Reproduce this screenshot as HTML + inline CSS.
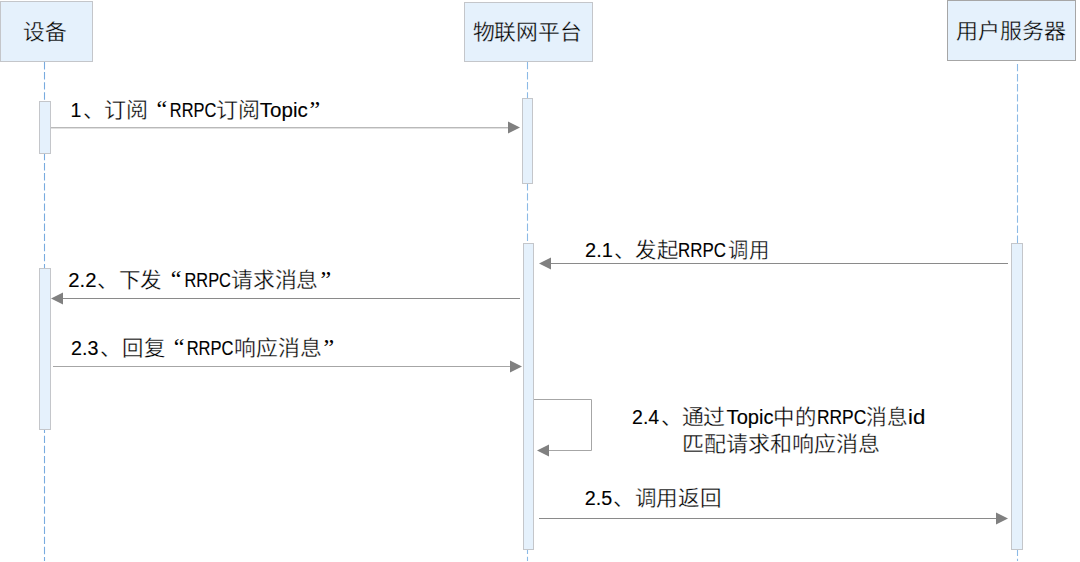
<!DOCTYPE html>
<html lang="zh-CN"><head><meta charset="utf-8"><style>
html,body{margin:0;padding:0;background:#fff;width:1080px;height:562px;overflow:hidden}
svg{display:block}
text{font-family:"Liberation Sans",sans-serif;fill:#000}
.l{font-size:19.5px;stroke:#000;stroke-width:0.12px}
.c{font-size:21px;stroke:#fff;stroke-width:0.3px}
.q{font-family:"Liberation Serif",serif;font-size:24px}
</style></head><body>
<svg width="1080" height="562" viewBox="0 0 1080 562">
<line x1="44.5" y1="62" x2="44.5" y2="561" stroke="#78abdf" stroke-width="1.1" stroke-dasharray="7.4 2.7"/>
<line x1="527.5" y1="61.9" x2="527.5" y2="561" stroke="#8cbae6" stroke-width="1.1" stroke-dasharray="7.4 2.7"/>
<line x1="1017.5" y1="63.9" x2="1017.5" y2="561" stroke="#8cbae6" stroke-width="1.1" stroke-dasharray="7.4 2.7"/>
<rect x="0.5" y="1.5" width="92" height="60" fill="#e5f1fc" stroke="#c4c6ca" stroke-width="1"/>
<rect x="464.5" y="2.5" width="128" height="59" fill="#e5f1fc" stroke="#c4c6ca" stroke-width="1"/>
<rect x="947.5" y="0.5" width="128" height="60" fill="#e5f1fc" stroke="#a6a6a6" stroke-width="1"/>
<rect x="39.5" y="101.5" width="11" height="52" fill="#e5f1fc" stroke="#c4c6ca" stroke-width="1"/>
<rect x="522.5" y="98.5" width="10" height="85" fill="#e5f1fc" stroke="#c4c6ca" stroke-width="1"/>
<rect x="39.5" y="268.5" width="11" height="161" fill="#e5f1fc" stroke="#c4c6ca" stroke-width="1"/>
<rect x="523.5" y="243.5" width="10" height="306" fill="#e5f1fc" stroke="#c4c6ca" stroke-width="1"/>
<rect x="1011.5" y="243.5" width="11" height="306" fill="#e5f1fc" stroke="#c4c6ca" stroke-width="1"/>
<line x1="51" y1="127.8" x2="510" y2="127.8" stroke="#9c9c9c" stroke-width="1"/>
<polygon points="520,127.5 508,121.5 508,133.5" fill="#808080"/>
<line x1="550" y1="263.5" x2="1008" y2="263.5" stroke="#8a8a8a" stroke-width="1"/>
<polygon points="539,263.5 551,257.5 551,269.5" fill="#808080"/>
<line x1="62" y1="298.5" x2="520" y2="298.5" stroke="#8a8a8a" stroke-width="1"/>
<polygon points="51,298.5 63,292.5 63,304.5" fill="#808080"/>
<line x1="53" y1="366.5" x2="511" y2="366.5" stroke="#a6a6a6" stroke-width="1"/>
<polygon points="522,366.5 510,360.5 510,372.5" fill="#808080"/>
<polyline points="534,399.5 591.5,399.5 591.5,450.5 549,450.5" fill="none" stroke="#a6a6a6" stroke-width="1"/>
<polygon points="537,450.5 549,444.5 549,456.5" fill="#808080"/>
<line x1="539" y1="518.5" x2="997" y2="518.5" stroke="#8a8a8a" stroke-width="1"/>
<polygon points="1008,518.5 996,512.5 996,524.5" fill="#808080"/>
<text class="l" x="70.5" y="117" textLength="10.86" lengthAdjust="spacingAndGlyphs">1</text>
<text class="c" x="82.58" y="117" textLength="21.0" lengthAdjust="spacingAndGlyphs">、</text>
<text class="c" x="103.65" y="117" textLength="44.05" lengthAdjust="spacingAndGlyphs">订阅</text>
<text class="q" x="156.55" y="117">“</text>
<text class="l" x="169.84" y="117" textLength="46.4" lengthAdjust="spacingAndGlyphs">RRPC</text>
<text class="c" x="215.95" y="117" textLength="43.94" lengthAdjust="spacingAndGlyphs">订阅</text>
<text class="l" x="259.77" y="117" textLength="47.99" lengthAdjust="spacingAndGlyphs">Topic</text>
<text class="q" x="309.55" y="117">”</text>
<text class="l" x="585.07" y="257" textLength="27.81" lengthAdjust="spacingAndGlyphs">2.1</text>
<text class="c" x="613.62" y="257" textLength="21.0" lengthAdjust="spacingAndGlyphs">、</text>
<text class="c" x="635.34" y="257" textLength="42.73" lengthAdjust="spacingAndGlyphs">发起</text>
<text class="l" x="678.0" y="257" textLength="47.86" lengthAdjust="spacingAndGlyphs">RRPC</text>
<text class="c" x="728.16" y="257" textLength="40.74" lengthAdjust="spacingAndGlyphs">调用</text>
<text class="l" x="68.26" y="286.5" textLength="28.19" lengthAdjust="spacingAndGlyphs">2.2</text>
<text class="c" x="97.42" y="286.5" textLength="21.0" lengthAdjust="spacingAndGlyphs">、</text>
<text class="c" x="118.82" y="286.5" textLength="43.0" lengthAdjust="spacingAndGlyphs">下发</text>
<text class="q" x="170.85" y="286.5">“</text>
<text class="l" x="184.54" y="286.5" textLength="46.4" lengthAdjust="spacingAndGlyphs">RRPC</text>
<text class="c" x="230.96" y="286.5" textLength="87.34" lengthAdjust="spacingAndGlyphs">请求消息</text>
<text class="q" x="320.45" y="286.5">”</text>
<text class="l" x="71.09" y="354.5" textLength="27.38" lengthAdjust="spacingAndGlyphs">2.3</text>
<text class="c" x="99.62" y="354.5" textLength="21.0" lengthAdjust="spacingAndGlyphs">、</text>
<text class="c" x="122.12" y="354.5" textLength="42.8" lengthAdjust="spacingAndGlyphs">回复</text>
<text class="q" x="173.7" y="354.5">“</text>
<text class="l" x="186.63" y="354.5" textLength="46.82" lengthAdjust="spacingAndGlyphs">RRPC</text>
<text class="c" x="234.04" y="354.5" textLength="87.36" lengthAdjust="spacingAndGlyphs">响应消息</text>
<text class="q" x="323.55" y="354.5">”</text>
<text class="l" x="632.1" y="424" textLength="27.11" lengthAdjust="spacingAndGlyphs">2.4</text>
<text class="c" x="660.68" y="424" textLength="21.0" lengthAdjust="spacingAndGlyphs">、</text>
<text class="c" x="681.56" y="424" textLength="43.83" lengthAdjust="spacingAndGlyphs">通过</text>
<text class="l" x="726.58" y="424" textLength="46.96" lengthAdjust="spacingAndGlyphs">Topic</text>
<text class="c" x="773.46" y="424" textLength="42.76" lengthAdjust="spacingAndGlyphs">中的</text>
<text class="l" x="816.96" y="424" textLength="49.32" lengthAdjust="spacingAndGlyphs">RRPC</text>
<text class="c" x="865.96" y="424" textLength="41.37" lengthAdjust="spacingAndGlyphs">消息</text>
<text class="l" x="907.98" y="424" textLength="17.27" lengthAdjust="spacingAndGlyphs">id</text>
<text class="c" x="682.1" y="450.5" textLength="198.21" lengthAdjust="spacingAndGlyphs">匹配请求和响应消息</text>
<text class="l" x="584.89" y="505" textLength="27.49" lengthAdjust="spacingAndGlyphs">2.5</text>
<text class="c" x="613.42" y="505" textLength="21.0" lengthAdjust="spacingAndGlyphs">、</text>
<text class="c" x="634.87" y="505" textLength="86.33" lengthAdjust="spacingAndGlyphs">调用返回</text>
<text class="c" x="22.96" y="38.6" textLength="43.51" lengthAdjust="spacingAndGlyphs" style="stroke:#e5f1fc">设备</text>
<text class="c" x="472.62" y="39" textLength="109.2" lengthAdjust="spacingAndGlyphs" style="stroke:#e5f1fc">物联网平台</text>
<text class="c" x="956.42" y="38.4" textLength="109.87" lengthAdjust="spacingAndGlyphs" style="stroke:#e5f1fc">用户服务器</text>
</svg></body></html>
